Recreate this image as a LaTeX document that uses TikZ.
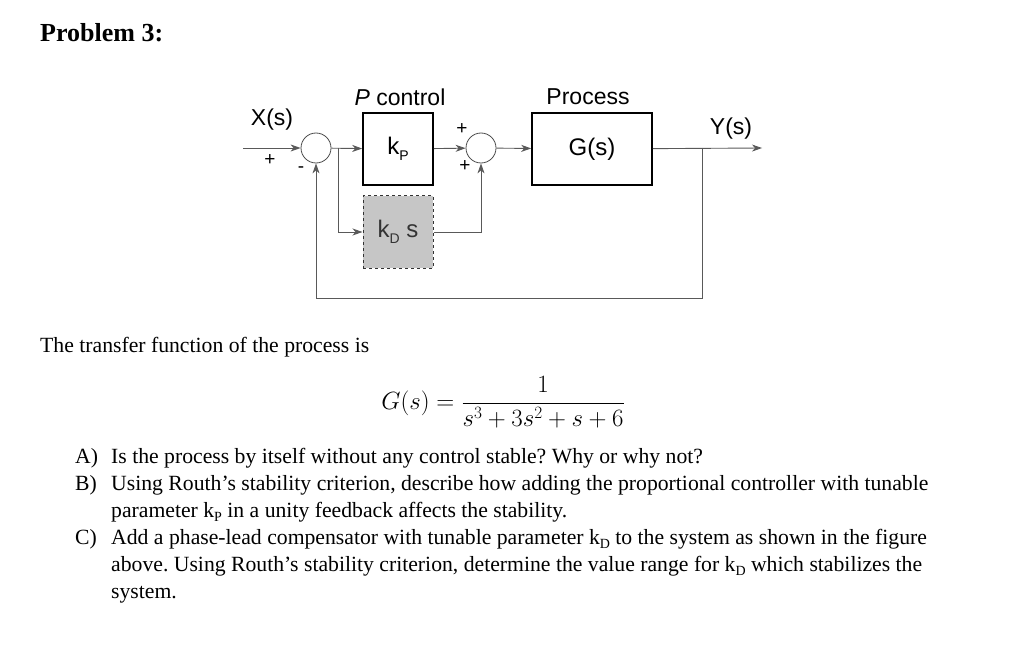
\documentclass[tikz,border=0pt]{standalone}
\usepackage{fontspec}
\setmainfont{Liberation Serif}
\newfontfamily\arial{Liberation Sans}
\usetikzlibrary{arrows.meta}
\newcommand{\sub}[1]{\raisebox{-0.45ex}{\fontsize{14}{14}\selectfont #1}}
\begin{document}
\frenchspacing
\begin{tikzpicture}[x=1pt,y=-1pt,
  blk/.style={draw,line width=1.6pt,minimum width=70pt,minimum height=72pt,inner sep=0pt,font=\arial\fontsize{24}{24}\selectfont},
  sum/.style={draw,gray!60!black,circle,minimum size=30pt,inner sep=0pt,line width=0.8pt},
  sig/.style={draw,gray!70!black,line width=0.9pt},
  arr/.style={sig,-{Stealth[length=10pt,width=7pt,inset=3pt]}},
  lab/.style={font=\arial\fontsize{23}{23}\selectfont,inner sep=0pt},
  pm/.style={font=\arial\fontsize{19}{19}\selectfont,inner sep=0pt},
  txt/.style={anchor=north west,inner sep=0pt,align=left,font=\fontsize{21.7}{27}\selectfont}]
\useasboundingbox (0,0) rectangle (1024,652);
\node[anchor=west,inner sep=0pt,font=\bfseries\fontsize{26}{26}\selectfont] (title) at (40,33) {Problem 3:};
% diagram
\coordinate (in) at (243,148);
\node[sum] (s1) at (316,148) {};
\node[blk] (kp) at (398,149) {k\sub{P}};
\node[sum] (s2) at (481,148) {};
\node[blk,minimum width=120pt] (g) at (592,149) {G(s)};
\node[draw,dashed,gray!40!black,fill=gray!45,line width=1pt,minimum width=70pt,minimum height=72pt,inner sep=0pt,font=\arial\fontsize{24}{24}\selectfont] (kd) at (398,232) {k\sub{D} s};
\coordinate (out) at (762,148);
\coordinate (br) at (702,148);
\coordinate (sp) at (338,148);
\coordinate (fb) at (316,298);
\draw[arr] (in) -- (s1);
\draw[arr] (s1) -- (kp);
\draw[arr] (kp) -- (s2);
\draw[arr] (s2) -- (g);
\draw[arr] (g) -- (out);
\draw[arr] (sp) |- (kd);
\draw[arr] (kd) -| (s2);
\draw[arr] (br) |- (fb) -- (s1);
\node[lab] (xs) at (272,120) {X(s)};
\node[lab] (ys) at (731,129) {Y(s)};
\node[lab] (pc) at (400,97) {\itshape P\upshape\ control};
\node[lab] (pr) at (588,97) {Process};
\node[pm] (p1) at (270,160) {+};
\node[pm] (m1) at (301,170) {-};
\node[pm] (p2) at (462,129) {+};
\node[pm] (p3) at (465,166) {+};
% text
\node[txt] (t1) at (40,337) {The transfer function of the process is};
\node[inner sep=0pt,font=\fontsize{24}{24}\selectfont] (eq) at (503,402) {$\displaystyle G(s)=\frac{1}{s^3+3s^2+s+6}$};
\node[txt] (la) at (75,448) {A)};
\node[txt] (a) at (111,448) {Is the process by itself without any control stable? Why or why not?};
\node[txt] (lb) at (75,475) {B)};
\node[txt] (b) at (111,475) {Using Routh's stability criterion, describe how adding the proportional controller with tunable\\parameter k\sub{P} in a unity feedback affects the stability.};
\node[txt] (lc) at (75,529) {C)};
\node[txt] (c) at (111,529) {Add a phase-lead compensator with tunable parameter k\sub{D} to the system as shown in the figure\\above. Using Routh's stability criterion, determine the value range for k\sub{D} which stabilizes the\\system.};
\end{tikzpicture}
\end{document}
